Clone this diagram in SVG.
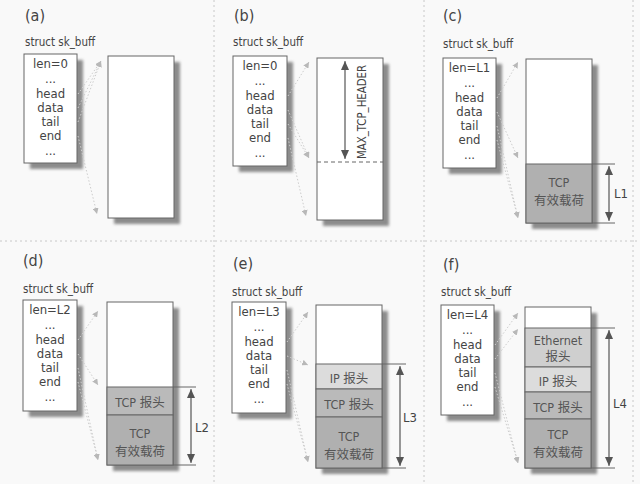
<svg xmlns="http://www.w3.org/2000/svg" width="640" height="484" viewBox="0 0 640 484">
<defs>
<filter id="sh" x="-30%" y="-30%" width="160%" height="160%"><feGaussianBlur stdDeviation="1.6"/></filter>
<marker id="ptr" markerUnits="userSpaceOnUse" markerWidth="7" markerHeight="6" refX="6" refY="3" orient="auto"><path d="M0,0 L6,3 L0,6 z" fill="#b8b8b8"/></marker>
<marker id="dimA" markerUnits="userSpaceOnUse" markerWidth="8" markerHeight="10" refX="9" refY="4" orient="auto-start-reverse"><path d="M0,0 L9,4 L0,8 z" fill="#555"/></marker>
<style>
.t{font-family:"Liberation Sans Narrow","DejaVu Sans Condensed","Liberation Sans","Noto Sans CJK SC",sans-serif;fill:#444}
.f{font-size:13px;text-anchor:middle}
.lab{font-size:16px}
.st{font-size:11.5px}
.cj{font-family:"Liberation Sans Narrow","DejaVu Sans Condensed","Noto Sans CJK SC",sans-serif;font-size:12.5px;text-anchor:middle;fill:#555}
.box{fill:#fff;stroke:#666;stroke-width:1}
.shd{fill:#8c8c8c;filter:url(#sh)}
.pay{fill:#b0b0b0;stroke:#666;stroke-width:1}
.tcph{fill:#bababa;stroke:#666;stroke-width:1}
.iph{fill:#dcdcdc;stroke:#666;stroke-width:1}
.eth{fill:#cfcfcf;stroke:#666;stroke-width:1}
.tick{stroke:#666;stroke-width:1}
.dim{stroke:#555;stroke-width:1.2;marker-start:url(#dimA);marker-end:url(#dimA)}
.ptr{stroke:#cdcdcd;stroke-width:1;stroke-dasharray:1.5 2;fill:none;marker-end:url(#ptr)}
.grid{stroke:#c8c8c8;stroke-width:1;stroke-dasharray:2 3}
</style>
</defs>
<rect width="640" height="484" fill="#f9f9f9"/>
<g id="grid">
<line class="grid" x1="214" y1="0" x2="214" y2="484"/>
<line class="grid" x1="424" y1="0" x2="424" y2="484"/>
<line class="grid" x1="633" y1="0" x2="633" y2="484"/>
<line class="grid" x1="0" y1="241" x2="640" y2="241"/>
</g>

<!-- Panel a -->
<g id="panel-a">
<text class="t lab" x="25" y="21">(a)</text>
<text class="t st" x="25" y="46">struct sk_buff</text>
</g>
<g id="skb-a">
<rect class="shd" x="30" y="60" width="53" height="109"/>
<rect class="box" x="24" y="54" width="53" height="109"/>
<text class="t f" x="50.5" y="68">len=0</text>
<text class="t f" x="50.5" y="83">...</text>
<text class="t f" x="50.5" y="98">head</text>
<text class="t f" x="50.5" y="112">data</text>
<text class="t f" x="50.5" y="126">tail</text>
<text class="t f" x="50.5" y="140">end</text>
<text class="t f" x="50.5" y="155">...</text>
</g>
<g id="buf-a">
<rect class="shd" x="114" y="62" width="66" height="162"/>
<rect class="box" x="108" y="56" width="66" height="162"/>
</g>

<!-- Panel b -->
<g id="panel-b">
<text class="t lab" x="234" y="21">(b)</text>
<text class="t st" x="233" y="46">struct sk_buff</text>
</g>
<g id="skb-b">
<rect class="shd" x="239" y="62" width="54" height="110"/>
<rect class="box" x="233" y="56" width="54" height="110"/>
<text class="t f" x="260" y="70">len=0</text>
<text class="t f" x="260" y="85">...</text>
<text class="t f" x="260" y="100">head</text>
<text class="t f" x="260" y="114">data</text>
<text class="t f" x="260" y="128">tail</text>
<text class="t f" x="260" y="142">end</text>
<text class="t f" x="260" y="157">...</text>
</g>
<g id="buf-b">
<rect class="shd" x="323" y="64" width="66" height="162"/>
<rect class="box" x="317" y="58" width="66" height="162"/>
<line x1="317" y1="162" x2="383" y2="162" stroke="#666" stroke-width="1" stroke-dasharray="4 3"/>
<line class="dim" x1="345" y1="61" x2="345" y2="159"/>
<text class="t" font-size="12.5" text-anchor="middle" textLength="94" lengthAdjust="spacingAndGlyphs" transform="translate(366,112) rotate(-90)">MAX_TCP_HEADER</text>
</g>

<!-- Panel c -->
<g id="panel-c">
<text class="t lab" x="443" y="21">(c)</text>
<text class="t st" x="443" y="48">struct sk_buff</text>
</g>
<g id="skb-c">
<rect class="shd" x="449" y="64" width="53" height="110"/>
<rect class="box" x="443" y="58" width="53" height="110"/>
<text class="t f" x="469.5" y="72">len=L1</text>
<text class="t f" x="469.5" y="87">...</text>
<text class="t f" x="469.5" y="102">head</text>
<text class="t f" x="469.5" y="116">data</text>
<text class="t f" x="469.5" y="130">tail</text>
<text class="t f" x="469.5" y="144">end</text>
<text class="t f" x="469.5" y="159">...</text>
</g>
<g id="buf-c">
<rect class="shd" x="532" y="65" width="66" height="164"/>
<rect class="box" x="526" y="59" width="66" height="164"/>
<rect class="pay" x="526" y="164" width="66" height="59"/>
<text class="cj" x="559" y="187">TCP</text>
<text class="cj" x="559" y="205">有效载荷</text>
<line class="tick" x1="592" y1="164" x2="615" y2="164"/>
<line class="tick" x1="592" y1="223" x2="615" y2="223"/>
<line class="dim" x1="609" y1="166" x2="609" y2="221"/>
<text class="t" font-size="13" x="614" y="198">L1</text>
</g>

<!-- Panel d -->
<g id="panel-d">
<text class="t lab" x="23" y="266">(d)</text>
<text class="t st" x="23" y="293">struct sk_buff</text>
</g>
<g id="skb-d">
<rect class="shd" x="29" y="306" width="54" height="111"/>
<rect class="box" x="23" y="300" width="54" height="111"/>
<text class="t f" x="50" y="314">len=L2</text>
<text class="t f" x="50" y="329">...</text>
<text class="t f" x="50" y="344">head</text>
<text class="t f" x="50" y="358">data</text>
<text class="t f" x="50" y="372">tail</text>
<text class="t f" x="50" y="386">end</text>
<text class="t f" x="50" y="401">...</text>
</g>
<g id="buf-d">
<rect class="shd" x="113" y="308" width="66" height="163"/>
<rect class="box" x="107" y="302" width="66" height="163"/>
<rect class="tcph" x="107" y="387" width="66" height="28"/>
<rect class="pay" x="107" y="415" width="66" height="50"/>
<text class="cj" x="140" y="407">TCP 报头</text>
<text class="cj" x="140" y="438">TCP</text>
<text class="cj" x="140" y="456">有效载荷</text>
<line class="tick" x1="173" y1="387" x2="196" y2="387"/>
<line class="tick" x1="173" y1="465" x2="196" y2="465"/>
<line class="dim" x1="191" y1="389" x2="191" y2="463"/>
<text class="t" font-size="13" x="195" y="432">L2</text>
</g>

<!-- Panel e -->
<g id="panel-e">
<text class="t lab" x="233" y="269">(e)</text>
<text class="t st" x="232" y="296">struct sk_buff</text>
</g>
<g id="skb-e">
<rect class="shd" x="238" y="308" width="54" height="111"/>
<rect class="box" x="232" y="302" width="54" height="111"/>
<text class="t f" x="259" y="316">len=L3</text>
<text class="t f" x="259" y="331">...</text>
<text class="t f" x="259" y="346">head</text>
<text class="t f" x="259" y="360">data</text>
<text class="t f" x="259" y="374">tail</text>
<text class="t f" x="259" y="388">end</text>
<text class="t f" x="259" y="403">...</text>
</g>
<g id="buf-e">
<rect class="shd" x="322" y="311" width="66" height="163"/>
<rect class="box" x="316" y="305" width="66" height="163"/>
<rect class="iph" x="316" y="364" width="66" height="25"/>
<rect class="tcph" x="316" y="389" width="66" height="28"/>
<rect class="pay" x="316" y="417" width="66" height="51"/>
<text class="cj" x="349" y="383">IP 报头</text>
<text class="cj" x="349" y="409">TCP 报头</text>
<text class="cj" x="349" y="441">TCP</text>
<text class="cj" x="349" y="459">有效载荷</text>
<line class="tick" x1="382" y1="364" x2="406" y2="364"/>
<line class="tick" x1="382" y1="468" x2="406" y2="468"/>
<line class="dim" x1="400" y1="366" x2="400" y2="466"/>
<text class="t" font-size="13" x="403" y="422">L3</text>
</g>

<!-- Panel f -->
<g id="panel-f">
<text class="t lab" x="443" y="270">(f)</text>
<text class="t st" x="441" y="296">struct sk_buff</text>
</g>
<g id="skb-f">
<rect class="shd" x="447" y="311" width="53" height="110"/>
<rect class="box" x="441" y="305" width="53" height="110"/>
<text class="t f" x="467.5" y="319">len=L4</text>
<text class="t f" x="467.5" y="334">...</text>
<text class="t f" x="467.5" y="349">head</text>
<text class="t f" x="467.5" y="363">data</text>
<text class="t f" x="467.5" y="377">tail</text>
<text class="t f" x="467.5" y="391">end</text>
<text class="t f" x="467.5" y="406">...</text>
</g>
<g id="buf-f">
<rect class="shd" x="531" y="313" width="66" height="161"/>
<rect class="box" x="525" y="307" width="66" height="161"/>
<rect class="eth" x="525" y="328" width="66" height="39"/>
<rect class="iph" x="525" y="367" width="66" height="25"/>
<rect class="tcph" x="525" y="392" width="66" height="27"/>
<rect class="pay" x="525" y="419" width="66" height="49"/>
<text class="cj" x="558" y="345">Ethernet</text>
<text class="cj" x="558" y="361">报头</text>
<text class="cj" x="558" y="386">IP 报头</text>
<text class="cj" x="558" y="412">TCP 报头</text>
<text class="cj" x="558" y="439">TCP</text>
<text class="cj" x="558" y="457">有效载荷</text>
<line class="tick" x1="591" y1="328" x2="615" y2="328"/>
<line class="tick" x1="591" y1="468" x2="615" y2="468"/>
<line class="dim" x1="609" y1="330" x2="609" y2="466"/>
<text class="t" font-size="13" x="613" y="408">L4</text>
</g>

<g id="connectors">
<path class="ptr" d="M78,94 L101,61"/>
<path class="ptr" d="M78,108 L101,61"/>
<path class="ptr" d="M78,122 L101,61"/>
<path class="ptr" d="M78,136 L97,214"/>

<path class="ptr" d="M288,96 L309,62"/>
<path class="ptr" d="M288,110 L309,158"/>
<path class="ptr" d="M288,124 L309,158"/>
<path class="ptr" d="M288,138 L306,216"/>

<path class="ptr" d="M497,98 L518,62"/>
<path class="ptr" d="M497,112 L518,158"/>
<path class="ptr" d="M497,126 L518,218"/>
<path class="ptr" d="M497,140 L518,218"/>

<path class="ptr" d="M78,340 L98,311"/>
<path class="ptr" d="M78,354 L98,385"/>
<path class="ptr" d="M78,368 L98,460"/>
<path class="ptr" d="M78,382 L98,460"/>

<path class="ptr" d="M287,342 L308,312"/>
<path class="ptr" d="M287,356 L308,365"/>
<path class="ptr" d="M287,370 L308,462"/>
<path class="ptr" d="M287,384 L308,462"/>

<path class="ptr" d="M495,345 L518,313"/>
<path class="ptr" d="M495,359 L518,329"/>
<path class="ptr" d="M495,373 L518,463"/>
<path class="ptr" d="M495,387 L518,463"/>
</g>
</svg>
